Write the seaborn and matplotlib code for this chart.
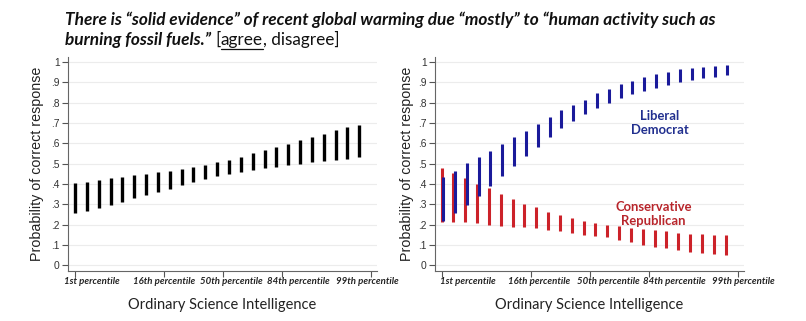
import numpy as np
import pandas as pd
import seaborn as sns
import matplotlib
matplotlib.use("Agg")
import matplotlib.pyplot as plt
from matplotlib.lines import Line2D
from matplotlib.transforms import ScaledTranslation

# ---------------- data ----------------
x_pos = [-2.5, -2.3, -2.1, -1.9, -1.7, -1.5, -1.3, -1.1, -0.9, -0.7, -0.5, -0.3, -0.1,
         0.1, 0.3, 0.5, 0.7, 0.9, 1.1, 1.3, 1.5, 1.7, 1.9, 2.1, 2.3]
tick_pos = [-2.5, -1, 0, 1, 2.5]
tick_labels = ["1st percentile", "16th percentile", "50th percentile",
               "84th percentile", "99th percentile"]
y_ticks = [0, .1, .2, .3, .4, .5, .6, .7, .8, .9, 1]
y_tick_labels = ["0", ".1", ".2", ".3", ".4", ".5", ".6", ".7", ".8", ".9", "1"]

all_low = [.255, .267, .283, .298, .313, .329, .344, .360, .376, .393, .409, .426, .437,
           .448, .458, .470, .478, .484, .493, .499, .506, .511, .517, .524, .532]
all_high = [.406, .412, .419, .427, .434, .442, .450, .458, .465, .473, .483, .494, .506,
            .520, .535, .550, .566, .583, .599, .615, .632, .648, .666, .679, .692]

lib_low = [.219, .255, .298, .342, .391, .441, .490, .538, .584, .633, .674, .712, .745,
           .775, .799, .821, .842, .857, .873, .887, .900, .912, .921, .929, .936]
lib_high = [.433, .462, .503, .531, .564, .597, .633, .663, .696, .729, .762, .789, .814,
            .847, .868, .891, .906, .926, .939, .952, .964, .969, .975, .982, .986]

con_low = [.212, .215, .211, .206, .199, .194, .189, .186, .181, .174, .166, .160, .150,
           .143, .137, .123, .112, .100, .092, .084, .074, .066, .059, .054, .048]
con_high = [.479, .452, .428, .400, .380, .350, .324, .301, .285, .262, .248, .230, .219,
            .209, .199, .191, .183, .178, .173, .168, .161, .156, .155, .151, .148]

groups = ["Conservative Republican", "Liberal Democrat"]
group_colors = {"Conservative Republican": "#cc2229", "Liberal Democrat": "#1a1a9a"}


def ranges_frame(xs, lows, highs, name, shift=0.0):
    rows = []
    for i, (x, lo, hi) in enumerate(zip(xs, lows, highs)):
        rows.append({"x": x + shift, "y": lo, "bar": f"{name}{i}", "group": name})
        rows.append({"x": x + shift, "y": hi, "bar": f"{name}{i}", "group": name})
    return pd.DataFrame(rows)


df_all = ranges_frame(x_pos, all_low, all_high, "all")
df_party = pd.concat([
    ranges_frame(x_pos, con_low, con_high, groups[0], -0.01),
    ranges_frame(x_pos, lib_low, lib_high, groups[1], 0.015),
], ignore_index=True)

# ---------------- style ----------------
sns.set_theme(style="white")
plt.rcParams["font.family"] = ["Liberation Sans", "DejaVu Sans"]
LATO = ["Lato", "DejaVu Sans"]

W, H = 806, 321
fig = plt.figure(figsize=(W / 100, H / 100), dpi=100)
ax1 = fig.add_axes([68 / W, 1 - 270.5 / H, 309 / W, 213.5 / H])
ax2 = fig.add_axes([435 / W, 1 - 270.5 / H, 309 / W, 213.5 / H])

sns.lineplot(data=df_all, x="x", y="y", units="bar", estimator=None, color="black",
             lw=2.4, solid_capstyle="butt", legend=False, ax=ax1)
sns.lineplot(data=df_party, x="x", y="y", units="bar", estimator=None, hue="group",
             hue_order=groups, palette=group_colors, lw=2.2, solid_capstyle="butt",
             legend=False, ax=ax2)

# horizontal pixel shifts of the tick labels (as laid out in the reference)
label_shift = {ax1: [17, 0, 8, 16, -4], ax2: [26, 8, 18, 25, 5]}

for ax, ylab_x in ((ax1, -0.100), (ax2, -0.091)):
    ax.set_xlim(-2.62, 2.6)
    ax.set_ylim(-0.026, 1.025)
    ax.set_yticks(y_ticks)
    ax.set_yticklabels(y_tick_labels, fontsize=7.4, color="#333333")
    ax.set_xticks(tick_pos)
    ax.set_xticklabels([])
    ax.tick_params(axis="both", which="major", direction="out", length=4, width=0.8,
                   color="#555555", bottom=True, left=True, pad=2)
    for xp, lab, dx in zip(tick_pos, tick_labels, label_shift[ax]):
        tr = ax.get_xaxis_transform() + ScaledTranslation(dx / 100, -10.5 / 100,
                                                          fig.dpi_scale_trans)
        ax.text(xp, 0, lab, transform=tr, ha="center", va="center", fontsize=6.9,
                fontweight="bold", fontstyle="italic", family=LATO, color="#222222",
                clip_on=False)
    ax.yaxis.grid(True, color="#ececec", lw=0.8)
    ax.xaxis.grid(False)
    ax.set_axisbelow(True)
    for s in ("top", "right"):
        ax.spines[s].set_visible(False)
    for s in ("left", "bottom"):
        ax.spines[s].set_color("#666666")
        ax.spines[s].set_linewidth(0.8)
    ax.set_xlabel("Ordinary Science Intelligence", fontsize=10.5, family=LATO,
                  color="#222222")
    ax.xaxis.set_label_coords(0.5, -0.162)
    ax.xaxis.label.set_va("center")
    ax.set_ylabel("Probability of correct response", fontsize=10.3, color="#222222")
    ax.yaxis.set_label_coords(ylab_x, 0.5)
    ax.yaxis.label.set_va("center")
    ax.yaxis.label.set_ha("center")

ax2.text(1.18, 0.70, "Liberal\nDemocrat", ha="center", va="center", color="#22308f",
         fontsize=9.4, fontweight="bold", family=LATO, linespacing=1.25)
ax2.text(1.07, 0.252, "Conservative\nRepublican", ha="center", va="center", color="#b8252b",
         fontsize=9.4, fontweight="bold", family=LATO, linespacing=1.25)

# ---------------- title ----------------
renderer = fig.canvas.get_renderer()
line1 = ("There is \u201csolid evidence\u201d of recent global warming due \u201cmostly\u201d "
         "to \u201chuman activity such as")
t1 = fig.text(65 / W, 1 - 25 / H, line1, fontsize=12, fontweight="bold", fontstyle="italic",
              family=LATO, va="baseline", ha="left", color="#111111")
w1 = t1.get_window_extent(renderer).width
fs = 12 * 647 / w1
t1.set_fontsize(fs)

t2 = fig.text(65 / W, 1 - 45 / H, "burning fossil fuels.\u201d", fontsize=fs, fontweight="bold",
              fontstyle="italic", family=LATO, va="baseline", ha="left", color="#111111")
bb = t2.get_window_extent(renderer)
t3 = fig.text((bb.x1 + 4) / W, 1 - 45 / H, "[", fontsize=fs, family=LATO,
              va="baseline", ha="left", color="#111111")
bb = t3.get_window_extent(renderer)
t4 = fig.text((bb.x1 + 0.5) / W, 1 - 45 / H, "agree", fontsize=fs, family=LATO,
              va="baseline", ha="left", color="#111111")
bb4 = t4.get_window_extent(renderer)
t5 = fig.text((bb4.x1 + 0.5) / W, 1 - 45 / H, ", disagree]", fontsize=fs, family=LATO,
              va="baseline", ha="left", color="#111111")
uy = 1 - 48.5 / H
fig.add_artist(Line2D([bb4.x0 / W, bb4.x1 / W], [uy, uy], transform=fig.transFigure,
                      color="#111111", lw=0.9))

fig.savefig("out.png", dpi=100, facecolor="white")
